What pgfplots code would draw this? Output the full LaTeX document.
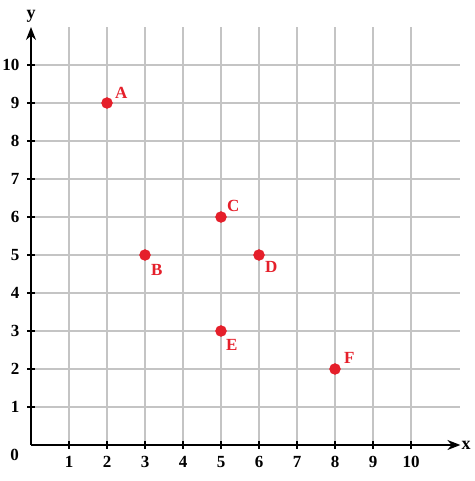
\documentclass[border=0pt]{standalone}
\usepackage{pgfplots}
\pgfplotsset{compat=1.18}
\usepackage{fontspec}
\setmainfont{Liberation Serif}
\usetikzlibrary{arrows.meta}
\definecolor{ptred}{HTML}{E51F2A}
\definecolor{gridgray}{HTML}{C4C4C4}
\begin{document}
\begin{tikzpicture}
\begin{axis}[
  scale only axis,
  width=429.4pt, height=418pt,
  xmin=0, xmax=11.3, ymin=0, ymax=11,
  axis lines=left,
  axis line style={line width=1.6pt, -{Stealth[length=13pt,width=10pt]}},
  xtick={1,...,10}, ytick={1,...,10},
  tick align=center, major tick length=8pt,
  tick style={black, line width=1.6pt},
  grid=major,
  major grid style={gridgray, line width=1.3pt},
  /pgf/number format/assume math mode=true,
  ticklabel style={font=\fontsize{17}{20}\selectfont\bfseries},
  xticklabel style={yshift=-4pt},
  yticklabel style={xshift=-4pt},
  xlabel={x}, ylabel={y},
  every axis x label/.style={at={(ticklabel* cs:1)}, anchor=west, xshift=0pt, inner sep=1pt, font=\fontsize{18}{20}\selectfont\bfseries},
  every axis y label/.style={at={(ticklabel* cs:1)}, anchor=south, yshift=1pt, font=\fontsize{18}{20}\selectfont\bfseries},
  clip=false,
]
\addplot[only marks, mark=*, mark size=5.5pt, ptred,
  point meta=explicit symbolic,
  nodes near coords,
  visualization depends on={value \thisrow{anc}\as\myanc},
  visualization depends on={\thisrow{dy}\as\mydy},
  visualization depends on={\thisrow{dx}\as\mydx},
  every node near coord/.append style={font=\fontsize{17}{20}\selectfont\bfseries, text=ptred, inner sep=0pt, anchor=\myanc, xshift=\mydx pt, yshift=\mydy pt},
] table[meta=lab]{
x y lab anc dx dy
2 9 A {south west} 8 4
3 5 B {north west} 6 -9
5 6 C {south west} 6 5
6 5 D {north west} 6 -6
5 3 E {north west} 5 -8
8 2 F {south west} 9 5
};
\node[anchor=north east, font=\fontsize{17}{20}\selectfont\bfseries, inner sep=0pt] at (axis cs:0,0) [xshift=-12pt, yshift=-4pt] {0};
\coordinate (O) at (axis cs:0,0);
\end{axis}
\pgfresetboundingbox
\path[use as bounding box] ([xshift=-31pt,yshift=-36pt]O) rectangle ([xshift=443pt,yshift=445pt]O);
\end{tikzpicture}
\end{document}
